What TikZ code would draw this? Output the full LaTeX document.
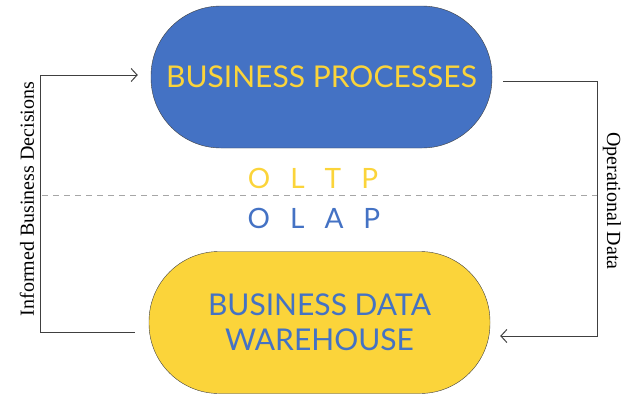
\documentclass[tikz,border=0pt]{standalone}
\usepackage{fontspec}
\usetikzlibrary{arrows.meta}
\newfontfamily\lato{Lato}
\setmainfont{Liberation Serif}
\definecolor{bpblue}{HTML}{4472C4}
\definecolor{dwyellow}{HTML}{FBD43A}
\definecolor{linegray}{HTML}{404040}
\tikzset{x=1pt, y=-1pt}
\tikzset{
    stadium/.style={rectangle, draw=linegray, thin, minimum width=341pt, minimum height=142pt, rounded corners=70pt, align=center, font=\lato\fontsize{30}{35}\selectfont},
    flow/.style={draw=linegray, line width=1pt, -{Straight Barb[length=6pt, width=13pt]}},
    side/.style={font=\fontsize{20}{24}\selectfont, text=black}
}

\begin{document}
\begin{tikzpicture}
        \useasboundingbox (0,0) rectangle (640,402);
        \node (bp) [stadium, fill=bpblue, text=dwyellow] at (321.5,77) {BUSINESS PROCESSES};
        \node (dw) [stadium, fill=dwyellow, text=bpblue] at (319.5,322.5) {BUSINESS DATA\\WAREHOUSE};
        \node (oltp) [font=\lato\fontsize{28}{32}\selectfont, text=dwyellow] at (313,178) {O\hspace{20pt}L\hspace{20pt}T\hspace{20pt}P};
        \node (olap) [font=\lato\fontsize{28}{32}\selectfont, text=bpblue] at (314,218) {O\hspace{20pt}L\hspace{20pt}A\hspace{20pt}P};
        \node (ibd) [side, rotate=90] at (27,199) {Informed Business Decisions};
        \node (opd) [side, rotate=-90] at (612,201) {Operational Data};
        \coordinate (l1) at (40,332);
        \coordinate (l2) at (40,75);
        \coordinate (r1) at (597,81);
        \coordinate (r2) at (597,336);
        \coordinate (d1) at (42,195);
        \coordinate (d2) at (597,195);
        \draw [dashed, dash pattern=on 6pt off 5pt, draw=gray!70, line width=1pt] (d1) -- (d2);
        \draw [flow, shorten <=14pt, shorten >=13pt] (dw.west |- l1) -- (l1) -- (l2) -- (bp.west |- l2);
        \draw [flow, shorten <=11pt, shorten >=10pt] (bp.east |- r1) -- (r1) -- (r2) -- (dw.east |- r2);
\end{tikzpicture}
\end{document}
